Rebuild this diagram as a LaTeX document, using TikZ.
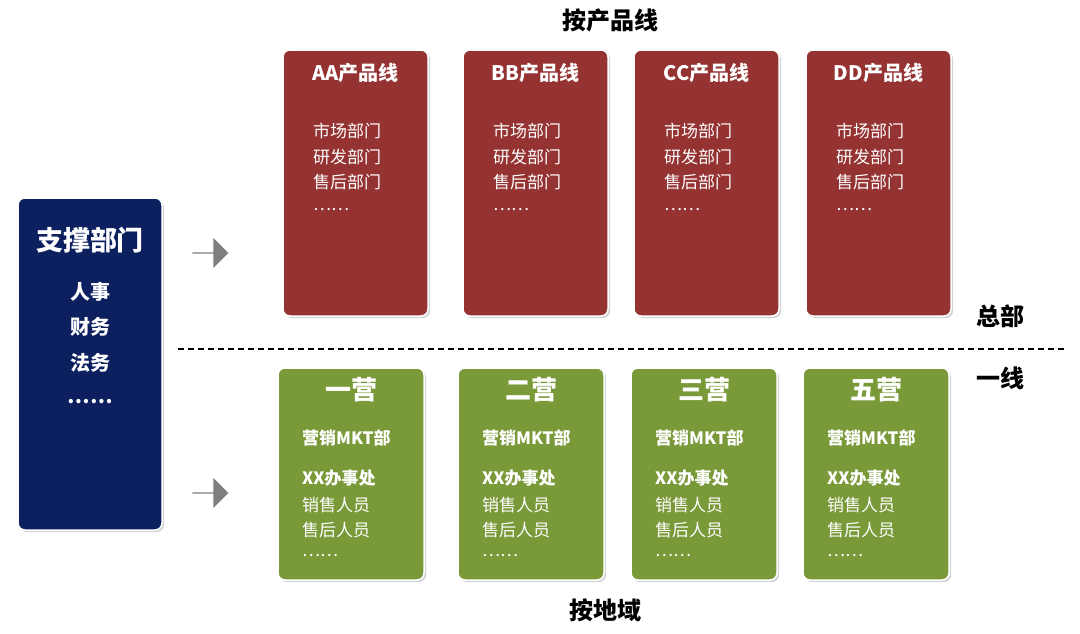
\documentclass[tikz,border=0pt]{standalone}
\usepackage{fontspec}
\setmainfont{Noto Sans CJK SC}
\usetikzlibrary{shapes.arrows,shadows}
\definecolor{navy}{HTML}{0C1F5E}
\definecolor{dred}{HTML}{953232}
\definecolor{dgreen}{HTML}{7A9A3A}
\definecolor{agray}{HTML}{7F7F7F}
\begin{document}
\begin{tikzpicture}[x=1pt,y=-1pt,
  box/.style={draw=white,line width=1.5pt,rounded corners=7pt,drop shadow={shadow xshift=2pt,shadow yshift=-2pt,opacity=0.35}},
  ttl/.style={text=white,font=\bfseries\fontsize{20}{22}\selectfont,anchor=center},
  gttl/.style={text=white,font=\bfseries\fontsize{26}{28}\selectfont,anchor=center},
  ln/.style={text=white,font=\fontsize{17}{19}\selectfont,anchor=west,inner sep=0pt},
  bln/.style={text=white,font=\bfseries\fontsize{17}{19}\selectfont,anchor=west,inner sep=0pt},
  hdr/.style={font=\bfseries\fontsize{24}{26}\selectfont,text=black},
  garr/.style={single arrow,fill=agray,draw=none,minimum height=36pt,minimum width=30pt,single arrow head extend=5pt,inner sep=0pt}]
\useasboundingbox (0,0) rectangle (1080,633);
% left box
\draw[box,fill=navy] (18,198) rectangle (162,530);
\node[text=white,font=\bfseries\fontsize{27}{29}\selectfont] (sup) at (90,240) {支撑部门};
\foreach \t/\y/\n in {人事/292/a,财务/327/b,法务/363/c,……/402/d}
  \node[text=white,font=\bfseries\fontsize{20}{22}\selectfont] (s\n) at (90,\y) {\t};
% arrows
\node[garr] (ar1) at (210,253) {};
\node[garr] (ar2) at (210,493) {};
% red boxes
\foreach \x/\t/\n in {283/AA/a,463/BB/b,634/CC/c,806/DD/d}{
  \draw[box,fill=dred] (\x,50) rectangle ++(145,266);
  \node[ttl] (r\n) at (\x+72.5,73) {\t 产品线};
  \node[ln] (r\n1) at (\x+30,131) {市场部门};
  \node[ln] (r\n2) at (\x+30,157) {研发部门};
  \node[ln] (r\n3) at (\x+30,182) {售后部门};
  \node[ln] (r\n4) at (\x+30,210) {……};
}
% green boxes
\foreach \x/\t/\n in {278/一营/a,458/二营/b,631/三营/c,803/五营/d}{
  \draw[box,fill=dgreen] (\x,368) rectangle ++(146,212);
  \node[gttl] (g\n) at (\x+73,390) {\t};
  \node[bln] (g\n1) at (\x+24,438) {营销MKT部};
  \node[bln] (g\n2) at (\x+24,478) {XX办事处};
  \node[ln] (g\n3) at (\x+24,505) {销售人员};
  \node[ln] (g\n4) at (\x+24,530) {售后人员};
  \node[ln] (g\n5) at (\x+24,556) {……};
}
% dashed line
\coordinate (d1) at (178,349);
\coordinate (d2) at (1066,349);
\draw[dashed,line width=1.2pt,dash pattern=on 6pt off 4pt] (d1) -- (d2);
\node[hdr] (h1) at (610,20) {按产品线};
\node[hdr] (h2) at (605,610) {按地域};
\node[hdr] (h3) at (1000,316) {总部};
\node[hdr] (h4) at (1000,378) {一线};
\end{tikzpicture}
\end{document}
